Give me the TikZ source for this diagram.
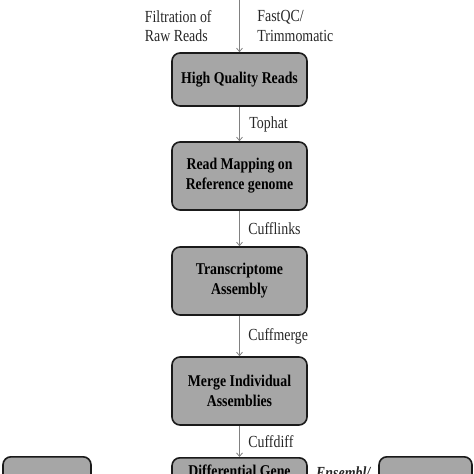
\documentclass[tikz,border=0pt]{standalone}
\usepackage{fontspec}
\setmainfont{Liberation Serif}
\newfontfamily\lblfont{Liberation Serif}[FakeStretch=0.82]
\newfontfamily\boxfont{Liberation Serif}[FakeStretch=0.84]
\usetikzlibrary{arrows.meta}
\definecolor{boxfill}{HTML}{A6A6A6}
\definecolor{boxline}{HTML}{1A1A1A}
\definecolor{arrowgray}{HTML}{808080}
\tikzset{
  stagebox/.style={draw=boxline, fill=boxfill, line width=1.6bp, rounded corners=8bp,
    minimum width=135bp, minimum height=68bp, align=center, inner sep=2bp,
    font=\boxfont\bfseries\fontsize{16.5}{20}\selectfont},
  flowarrow/.style={draw=arrowgray, line width=0.8bp, -{Straight Barb[length=3.5bp,width=6bp]}},
  lbl/.style={inner sep=0pt, align=left, font=\lblfont\fontsize{17}{20}\selectfont, text=black!85},
}
\begin{document}
\begin{tikzpicture}[x=1bp, y=-1bp]
\useasboundingbox (0,0) rectangle (474,474);
\clip (0,0) rectangle (474,474);
\coordinate (top) at (239.5,0);
\node[stagebox, minimum height=53bp] (hq) at (239.5,79.5) {High Quality Reads};
\node[stagebox] (rm) at (239.5,176) {Read Mapping on\\Reference genome};
\node[stagebox] (ta) at (239.5,281) {Transcriptome\\Assembly};
\node[stagebox] (mi) at (239.5,391) {Merge Individual\\Assemblies};
\node[stagebox, minimum height=90bp, inner ysep=7bp, anchor=north] (dg) at (239.5,457) {Differential Gene\\[60bp]};
\node[stagebox, minimum width=88bp, minimum height=90bp, anchor=north] (lb) at (47,456) {};
\node[stagebox, minimum width=93bp, minimum height=90bp, anchor=north] (rb) at (425.5,456) {};
\node[lbl, anchor=north west, font=\lblfont\bfseries\itshape\fontsize{17}{20}\selectfont] (ens) at (316,467) {Ensembl/};

\draw[flowarrow] (top) -- node[lbl, anchor=east, xshift=-27.5bp] (filt) {Filtration of\\Raw Reads}
  node[lbl, anchor=west, xshift=17.5bp] (fqc) {FastQC/\\Trimmomatic} (hq);
\draw[flowarrow] (hq) -- node[lbl, anchor=west, xshift=9.5bp] (l1) {Tophat} (rm);
\draw[flowarrow] (rm) -- node[lbl, anchor=west, xshift=8.5bp] (l2) {Cufflinks} (ta);
\draw[flowarrow] (ta) -- node[lbl, anchor=west, xshift=8.5bp] (l3) {Cuffmerge} (mi);
\draw[flowarrow] (mi) -- node[lbl, anchor=west, xshift=8.5bp] (l4) {Cuffdiff} (dg);
\end{tikzpicture}
\end{document}
